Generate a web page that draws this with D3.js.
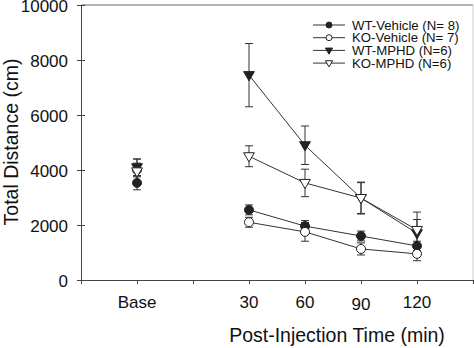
<!DOCTYPE html>
<html><head><meta charset="utf-8">
<script src="https://cdn.jsdelivr.net/npm/d3@7"></script>
<style>body{margin:0;background:#fff}svg{display:block}text{font-family:"Liberation Sans",Arial,sans-serif;fill:#111}</style>
</head><body><div id="c"></div>
<script>
const timeLabels = ["Base", "30", "60", "90", "120"];
const timePos = [1, 3, 4, 5, 6];
const seriesNames = ["WT-Vehicle (N= 8)", "KO-Vehicle (N= 7)", "WT-MPHD (N=6)", "KO-MPHD (N=6)"];
const wtVehicle = [3530, 2550, 1960, 1600, 1240];
const wtVehicleErr = [250, 180, 200, 180, 170];
const koVehicle = [4000, 2100, 1750, 1130, 950];
const koVehicleErr = [250, 180, 340, 220, 250];
const wtMphd = [4100, 7450, 4900, 2980, 1700];
const wtMphdErr = [300, 1150, 700, 580, 500];
const koMphd = [3950, 4500, 3530, 2980, 1820];
const koMphdErr = [450, 380, 500, 560, 650];
const yTicks = [0, 2000, 4000, 6000, 8000, 10000];

const W = 474, H = 348;
const svg = d3.select("#c").append("svg").attr("width", W).attr("height", H);
const x = d3.scaleLinear().domain([0, 7]).range([81, 473]);
const y = d3.scaleLinear().domain([0, 10000]).range([280, 5]);
const col = "#222";

// frame top & right
svg.append("line").attr("x1", 81).attr("x2", 473).attr("y1", 5).attr("y2", 5).attr("stroke", "#666").attr("stroke-width", 1);
svg.append("line").attr("x1", 473).attr("x2", 473).attr("y1", 5).attr("y2", 280).attr("stroke", "#ccc").attr("stroke-width", 1);

// y axis
const ya = svg.append("g").attr("transform", "translate(81,0)")
  .call(d3.axisLeft(y).tickValues(yTicks).tickSize(4).tickFormat(d3.format("d")));
ya.selectAll(".tick line").attr("x2", 4).attr("x1", -4).attr("stroke", "#444");
ya.select(".domain").attr("stroke", "#444");
ya.selectAll("text").attr("font-size", 17).attr("x", -13).attr("dy", "0.36em").style("font-family", "Liberation Sans, Arial, sans-serif").attr("fill", "#111");

// x axis
const xa = svg.append("g").attr("transform", "translate(0,280)")
  .call(d3.axisBottom(x).tickValues([0,1,2,3,4,5,6,7]).tickSize(4).tickFormat(""));
xa.selectAll(".tick line").attr("stroke", "#444");
xa.select(".domain").attr("stroke", "#444");
svg.append("g").selectAll("text").data(timeLabels).join("text")
  .attr("x", (d, i) => x(timePos[i])).attr("y", (d, i) => i === 3 ? 310 : 308).attr("text-anchor", "middle")
  .attr("font-size", 17).text(d => d);

// axis titles
svg.append("text").attr("transform", "translate(18,142) rotate(-90)").attr("text-anchor", "middle")
  .attr("font-size", 19.5).text("Total Distance (cm)");
svg.append("text").attr("x", 337).attr("y", 342).attr("text-anchor", "middle")
  .attr("font-size", 19.5).text("Post-Injection Time (min)");

const series = [
  {name: seriesNames[0], v: wtVehicle, e: wtVehicleErr, shape: "circle", fill: col},
  {name: seriesNames[1], v: koVehicle, e: koVehicleErr, shape: "circle", fill: "#fff"},
  {name: seriesNames[2], v: wtMphd, e: wtMphdErr, shape: "tri", fill: col},
  {name: seriesNames[3], v: koMphd, e: koMphdErr, shape: "tri", fill: "#fff"}
];

function marker(g, s, cx, cy, r) {
  if (s.shape === "circle") {
    g.append("circle").attr("cx", cx).attr("cy", cy).attr("r", r).attr("fill", s.fill).attr("stroke", col).attr("stroke-width", 1);
  } else {
    const a = r * 1.2;
    g.append("path").attr("d", `M${cx - a},${cy - a * 0.65}L${cx + a},${cy - a * 0.65}L${cx},${cy + a * 1.05}Z`)
      .attr("fill", s.fill).attr("stroke", col).attr("stroke-width", 1);
  }
}

const line = d3.line().x(d => x(d[0])).y(d => y(d[1]));
// lines & error bars
series.forEach(s => {
  const pts = s.v.map((v, i) => [timePos[i], v]).slice(1);
  svg.append("path").attr("d", line(pts)).attr("fill", "none").attr("stroke", "#333").attr("stroke-width", 1);
  s.v.forEach((v, i) => {
    const cx = x(timePos[i]);
    const g = svg.append("g").attr("stroke", "#333").attr("stroke-width", 1);
    g.append("line").attr("x1", cx).attr("x2", cx).attr("y1", y(v - s.e[i])).attr("y2", y(v + s.e[i]));
    [v - s.e[i], v + s.e[i]].forEach(t => g.append("line").attr("x1", cx - 4).attr("x2", cx + 4).attr("y1", y(t)).attr("y2", y(t)));
  });
});
series.forEach(s => {
  s.v.forEach((v, i) => marker(svg, s, x(timePos[i]), y(v), 4.5));
});

// legend
const lg = svg.append("g");
series.forEach((s, i) => {
  const yy = 25 + i * 12.7;
  lg.append("line").attr("x1", 313).attr("x2", 345).attr("y1", yy).attr("y2", yy).attr("stroke", "#333");
  marker(lg, s, 329, yy, 3);
  lg.append("text").attr("x", 352).attr("y", yy + 4.7).attr("font-size", 13.2).text(s.name);
});
</script></body></html>
